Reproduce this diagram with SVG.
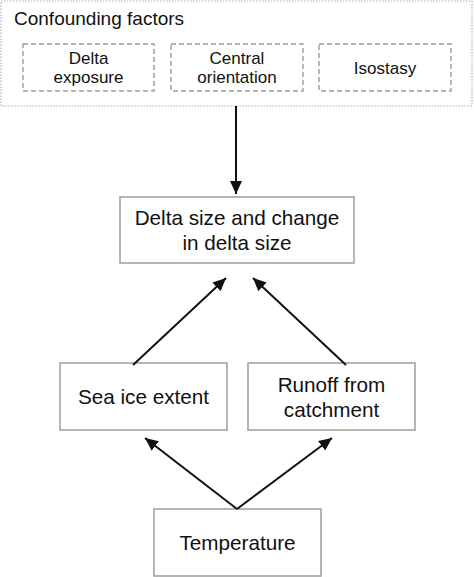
<svg xmlns="http://www.w3.org/2000/svg" width="474" height="577" viewBox="0 0 474 577">
<style>
text{font-family:"Liberation Sans",Arial,sans-serif;fill:#111;}
.box{fill:#fff;stroke:#a3a3a3;stroke-width:1.6;}
.dash{fill:#fff;stroke:#9a9a9a;stroke-width:1.4;stroke-dasharray:5 3;}
.outer{fill:#fff;stroke:#b0b0b0;stroke-width:1.2;stroke-dasharray:1.5 1.5;}
.c{text-anchor:middle;}
.big{font-size:20.7px;}
.small{font-size:17px;}
.arr{stroke:#111;stroke-width:2;fill:none;marker-end:url(#ah);}
</style>
<defs>
<marker id="ah" markerUnits="userSpaceOnUse" markerWidth="14" markerHeight="12" refX="13" refY="6" orient="auto">
<path d="M0,0 L13,6 L0,12 Z" fill="#111"/>
</marker>
</defs>
<rect width="474" height="577" fill="#fff"/>
<g id="confounding">
<rect class="outer" x="1" y="1" width="471" height="105"/>
<text x="14" y="25" style="font-size:19px">Confounding factors</text>
<g id="delta-exposure">
<rect class="dash" x="23" y="44" width="131" height="47"/>
<text class="c small" x="88.5" y="64">Delta</text>
<text class="c small" x="88.5" y="83">exposure</text>
</g>
<g id="central-orientation">
<rect class="dash" x="171" y="44" width="132" height="47"/>
<text class="c small" x="237" y="64">Central</text>
<text class="c small" x="237" y="83">orientation</text>
</g>
<g id="isostasy">
<rect class="dash" x="319" y="44" width="132" height="47"/>
<text class="c small" x="385" y="73.5">Isostasy</text>
</g>
</g>
<g id="delta-size">
<rect class="box" x="120" y="197" width="234" height="66"/>
<text class="c big" x="237" y="225">Delta size and change</text>
<text class="c big" x="237" y="250">in delta size</text>
</g>
<g id="sea-ice">
<rect class="box" x="60" y="363" width="167" height="67"/>
<text class="c big" x="143.5" y="404">Sea ice extent</text>
</g>
<g id="runoff">
<rect class="box" x="248" y="363" width="167" height="67"/>
<text class="c big" x="331.5" y="392">Runoff from</text>
<text class="c big" x="331.5" y="417">catchment</text>
</g>
<g id="temperature">
<rect class="box" x="154" y="509" width="167" height="67"/>
<text class="c big" x="237.5" y="550">Temperature</text>
</g>
<g id="connectors">
<line class="arr" x1="236" y1="106" x2="236" y2="194"/>
<line class="arr" x1="133" y1="365" x2="226" y2="278"/>
<line class="arr" x1="346" y1="365" x2="253" y2="278"/>
<line class="arr" x1="237" y1="509" x2="145" y2="438"/>
<line class="arr" x1="237" y1="509" x2="332" y2="438"/>
</g>
</svg>
